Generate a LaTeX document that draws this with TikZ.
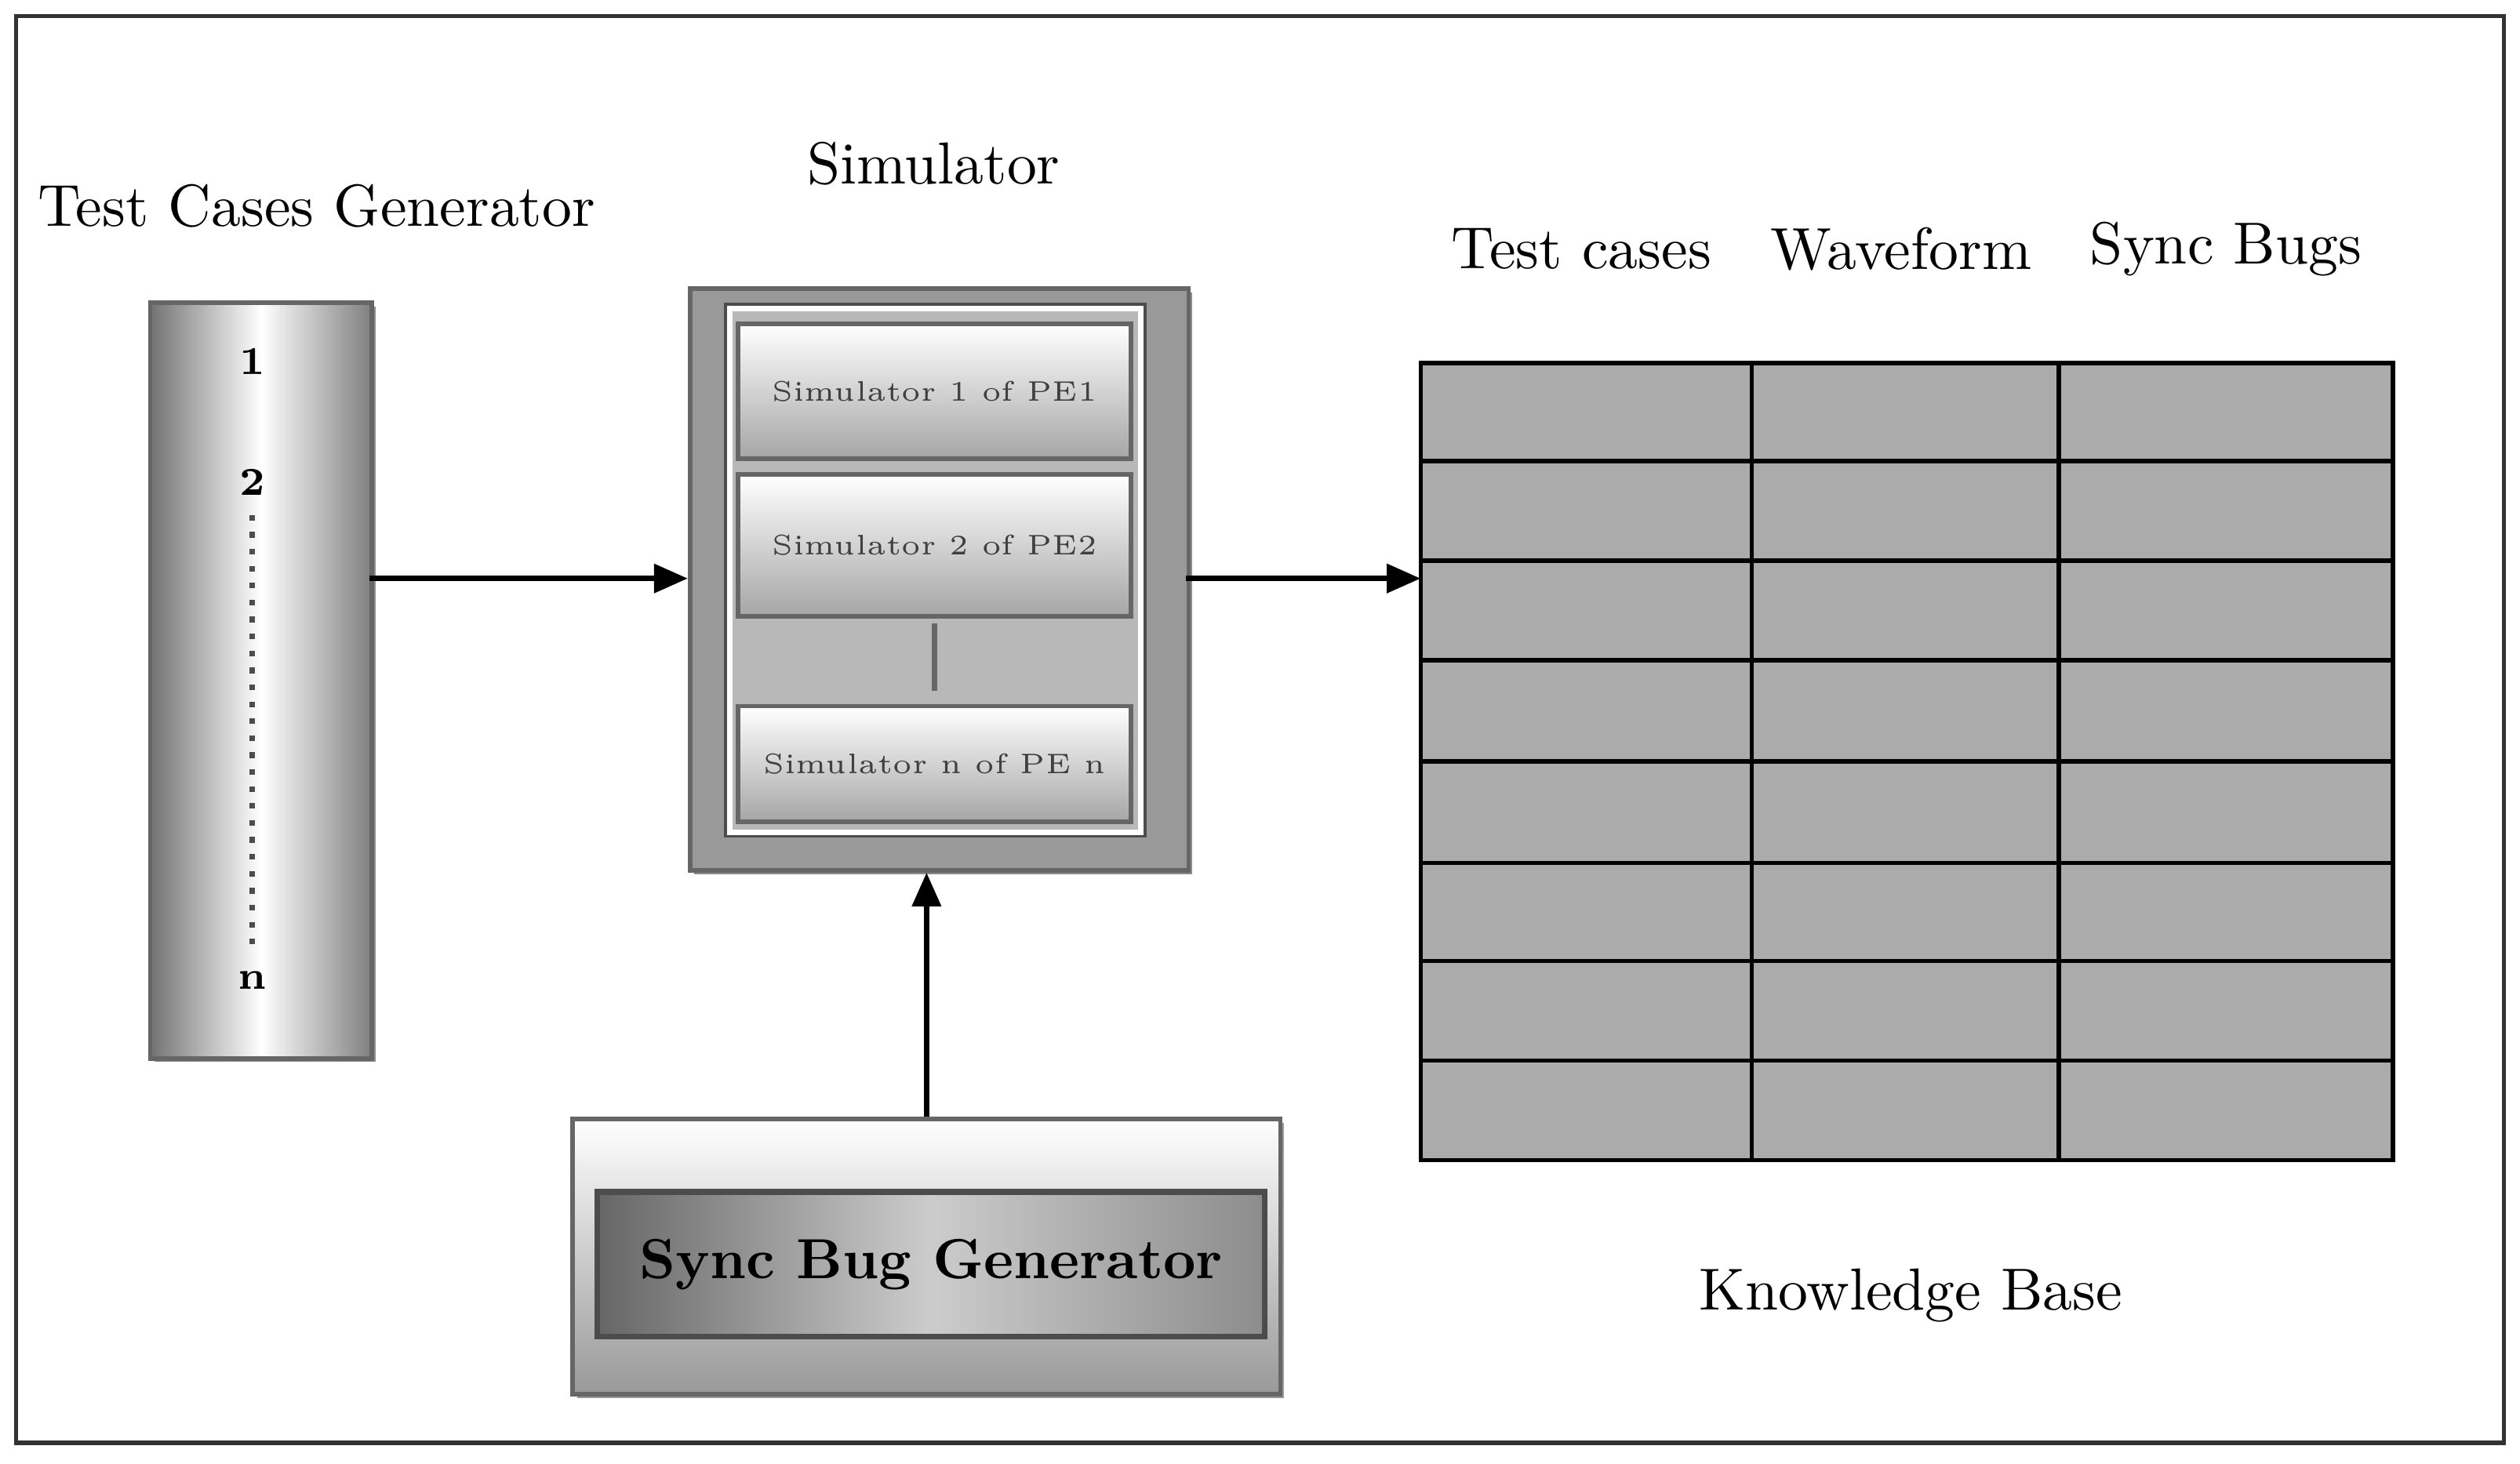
\documentclass[tikz,border=0pt]{standalone}
\usetikzlibrary{arrows.meta}
\begin{document}
\begin{tikzpicture}[x=0.01cm,y=-0.01cm,
  lbl/.style={font=\fontsize{10.5}{12}\selectfont},
  sim/.style={draw=black!60,line width=0.8pt,top color=white,bottom color=black!35,font=\fontsize{5}{6}\selectfont,text=black!75},
  arr/.style={line width=1pt,-{Triangle[length=6pt,width=5pt]}},
  cell/.style={draw=black,line width=0.8pt,fill=black!33}]
\useasboundingbox (0,0) rectangle (1568,911);
\draw[line width=0.8pt,black!80] (10,10) rectangle (1558,898);
\node[lbl] (tcgt) at (197,128) {Test Cases Generator};
\node[lbl] (simt) at (581,102) {Simulator};
\node[lbl] (kb) at (1189,806) {Knowledge Base};
\node[lbl] (h1) at (984,155) {Test cases};
\node[lbl] (h2) at (1183,155) {Waveform};
\node[lbl] (h3) at (1385,155) {Sync Bugs};
% test case generator bar
\fill[black!45] (96,191) rectangle (234,661);
\node[draw=black!60,line width=0.8pt,left color=black!55,right color=black!50,middle color=white,inner sep=0,anchor=north west,minimum width=1.38cm,minimum height=4.7cm] (tcg) at (92,187) {};
\node[font=\bfseries\fontsize{7}{8}\selectfont] (n1) at (157,225) {1};
\node[font=\bfseries\fontsize{7}{8}\selectfont] (n2) at (157,300) {2};
\node[font=\bfseries\fontsize{7}{8}\selectfont] (nn) at (157,610) {n};
\draw[dotted,line width=1pt,black!70] (n2.south) -- (nn.north);
% simulator
\fill[black!45] (432,182) rectangle (742,544);
\node[draw=black!60,line width=0.8pt,fill=black!40,anchor=north west,minimum width=3.1cm,minimum height=3.62cm,inner sep=0] (sim) at (428,178) {};
\draw[black!70,line width=0.8pt,fill=black!28] (452,190) rectangle (712,520);
\draw[white,line width=1pt] (454,192) rectangle (710,518);
\node[sim,anchor=north west,minimum width=2.44cm,minimum height=0.84cm,inner sep=0] (s1) at (458,200) {Simulator 1 of PE1};
\node[sim,anchor=north west,minimum width=2.44cm,minimum height=0.88cm,inner sep=0] (s2) at (458,294) {Simulator 2 of PE2};
\node[sim,anchor=north west,minimum width=2.44cm,minimum height=0.72cm,inner sep=0] (sn) at (458,438) {Simulator n of PE n};
\draw[black!60,line width=1pt] ([yshift=-0.03cm]s2.south) -- ([yshift=0.08cm]sn.north);
% sync bug generator
\fill[black!40] (359,699) rectangle (799,870);
\node[draw=black!60,line width=0.8pt,top color=white,bottom color=black!40,anchor=north west,minimum width=4.4cm,minimum height=1.71cm,inner sep=0] (sbg) at (355,695) {};
\node[draw=black!70,line width=1pt,left color=black!60,right color=black!45,middle color=black!20,anchor=north west,minimum width=4.15cm,minimum height=0.9cm,inner sep=0,font=\bfseries\fontsize{10}{12}\selectfont] (sbgi) at (370,740) {Sync Bug Generator};
% table
\foreach \x/\xx in {884/1090,1090/1281,1281/1489}
  \foreach \y/\yy in {226/287,287/349,349/411,411/474,474/537,537/598,598/660,660/722}
    \draw[cell] (\x,\y) rectangle (\xx,\yy);
\coordinate (kbin) at (884,360);
\coordinate (simin) at (428,360);
% arrows
\draw[arr] (230,360) -- (simin);
\draw[arr] (738,360) -- (kbin);
\draw[arr] (sbg.north) -- (sbg.north |- sim.south);
\end{tikzpicture}
\end{document}
